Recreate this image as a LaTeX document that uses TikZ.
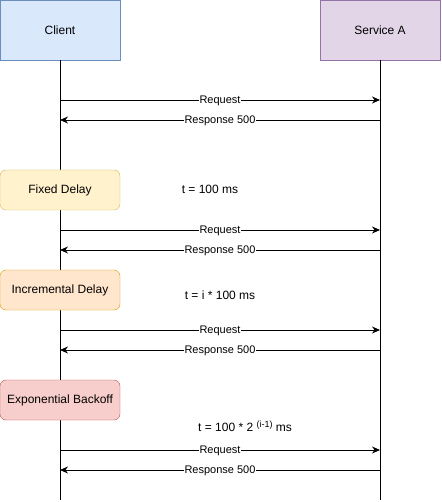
\documentclass[tikz,border=0pt]{standalone}
\usepackage{fontspec}
\setmainfont{Liberation Sans}
\usepackage{xcolor}
\usetikzlibrary{arrows.meta, positioning}

\definecolor{clientfill}{HTML}{DAE8FC}
\definecolor{clientdraw}{HTML}{6C8EBF}
\definecolor{servicefill}{HTML}{E1D5E7}
\definecolor{servicedraw}{HTML}{9673A6}
\definecolor{fixedfill}{HTML}{FFF2CC}
\definecolor{fixeddraw}{HTML}{D6B656}
\definecolor{incrfill}{HTML}{FFE6CC}
\definecolor{incrdraw}{HTML}{D79B00}
\definecolor{expfill}{HTML}{F8CECC}
\definecolor{expdraw}{HTML}{B85450}

\begin{document}
\begin{tikzpicture}[
    x=1pt, y=-1pt,
    participant/.style={rectangle, draw, minimum width=120pt, minimum height=60pt, inner sep=0pt, font=\fontsize{12}{14}\selectfont},
    strategy/.style={rectangle, draw, rounded corners=6pt, minimum width=120pt, minimum height=40pt, inner sep=0pt, font=\fontsize{12}{14}\selectfont},
    note/.style={font=\fontsize{12}{14}\selectfont},
    lifeline/.style={draw, line width=0.8pt},
    msg/.style={-{Stealth[length=8pt, width=7pt]}, line width=0.8pt},
    msglabel/.style={fill=white, inner sep=0.5pt, yshift=-1pt, font=\fontsize{11}{13}\selectfont}
]
\useasboundingbox (0,0) rectangle (441,502);

% Participants
\node[participant, fill=clientfill, draw=clientdraw] (client) at (60,30) {Client};
\node[participant, fill=servicefill, draw=servicedraw] (service) at (380,30) {Service A};

% Lifelines
\coordinate (clientend) at (60,500);
\coordinate (serviceend) at (380,500);
\draw[lifeline] (client.south) -- (clientend);
\draw[lifeline] (service.south) -- (serviceend);

% Retry strategies
\node[strategy, fill=fixedfill, draw=fixeddraw] (fixed) at (60,190) {Fixed Delay};
\node[strategy, fill=incrfill, draw=incrdraw] (incr) at (60,290) {Incremental Delay};
\node[strategy, fill=expfill, draw=expdraw] (expo) at (60,400) {Exponential Backoff};

% Delays
\node[note] (fixedt) at (210,189) {t = 100 ms};
\node[note] (incrt) at (220,295) {t = i * 100 ms};
\node[note] (expot) at (245,426) {t = 100 * 2 \raisebox{4pt}{\fontsize{9}{10}\selectfont (i-1)} ms};

% Messages
\foreach \name/\req/\res in {a/100/120, b/230/250, c/330/350, d/450/470} {
  \coordinate (creq\name) at (60,\req);
  \coordinate (sreq\name) at (380,\req);
  \coordinate (cres\name) at (60,\res);
  \coordinate (sres\name) at (380,\res);
  \draw[msg] (creq\name) -- (sreq\name) node[midway, msglabel] {Request};
  \draw[msg] (sres\name) -- (cres\name) node[midway, msglabel] {Response 500};
}

\end{tikzpicture}
\end{document}
